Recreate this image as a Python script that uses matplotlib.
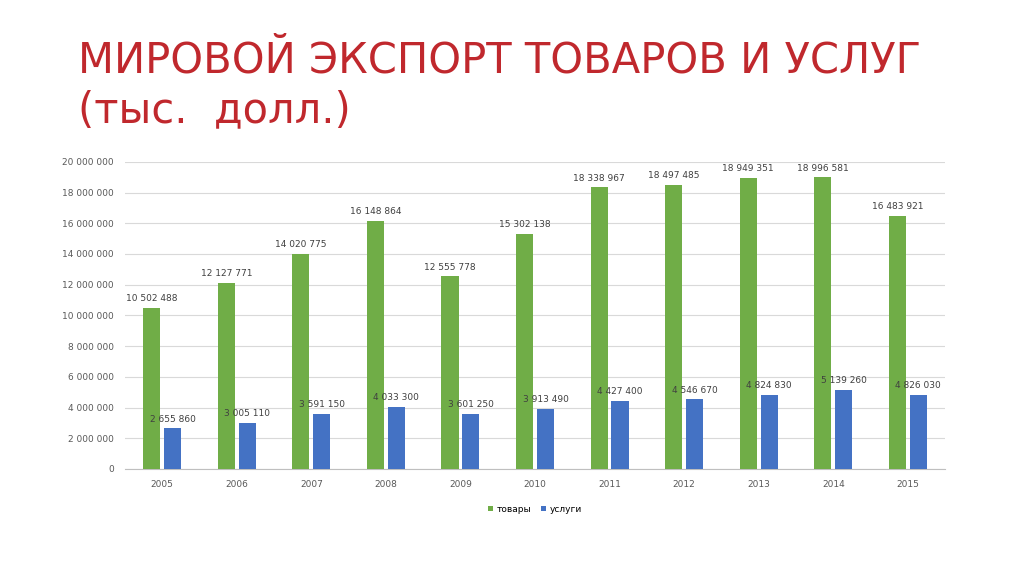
import numpy as np
import matplotlib.pyplot as plt

years = ['2005', '2006', '2007', '2008', '2009', '2010', '2011', '2012', '2013', '2014', '2015']
goods = [10502488, 12127771, 14020775, 16148864, 12555778, 15302138, 18338967, 18497485, 18949351, 18996581, 16483921]
services = [2655860, 3005110, 3591150, 4033300, 3601250, 3913490, 4427400, 4546670, 4824830, 5139260, 4826030]


def fmt(v):
    return f'{v:,.0f}'.replace(',', ' ')


fig = plt.figure(figsize=(10.24, 5.74), dpi=100)
fig.text(0.076, 0.895, 'МИРОВОЙ ЭКСПОРТ ТОВАРОВ И УСЛУГ', color='#C0282D', fontsize=30, va='center')
fig.text(0.076, 0.808, '(тыс.  долл.)', color='#C0282D', fontsize=30, va='center')

ax = fig.add_axes([0.122, 0.183, 0.801, 0.535])
x = np.arange(len(years))
w = 0.23
b1 = ax.bar(x - 0.14, goods, w, color='#70AD47', label='товары', zorder=3)
b2 = ax.bar(x + 0.14, services, w, color='#4472C4', label='услуги', zorder=3)
for xi, v in zip(x, goods):
    ax.text(xi - 0.14, v + 300000, fmt(v), ha='center', va='bottom', fontsize=6.5, color='#404040')
for xi, v in zip(x, services):
    ax.text(xi + 0.14, v + 300000, fmt(v), ha='center', va='bottom', fontsize=6.5, color='#404040')

ax.set_xlim(-0.5, len(years) - 0.5)
ax.set_ylim(0, 20000000)
ax.set_yticks(np.arange(0, 20000001, 2000000))
ax.set_yticklabels([fmt(v) for v in np.arange(0, 20000001, 2000000)])
ax.set_xticks(x)
ax.set_xticklabels(years)
ax.tick_params(labelsize=6.5, colors='#595959', length=0, pad=8)
ax.grid(axis='y', color='#D9D9D9', linewidth=0.8, zorder=0)
for s in ['top', 'right', 'left']:
    ax.spines[s].set_visible(False)
ax.spines['bottom'].set_color('#BFBFBF')
ax.legend(loc='upper center', bbox_to_anchor=(0.5, -0.09), ncol=2, frameon=False,
          fontsize=6.5, handlelength=0.6, handleheight=0.6, columnspacing=1.0, handletextpad=0.4)

fig.savefig('out.png', dpi=100)
